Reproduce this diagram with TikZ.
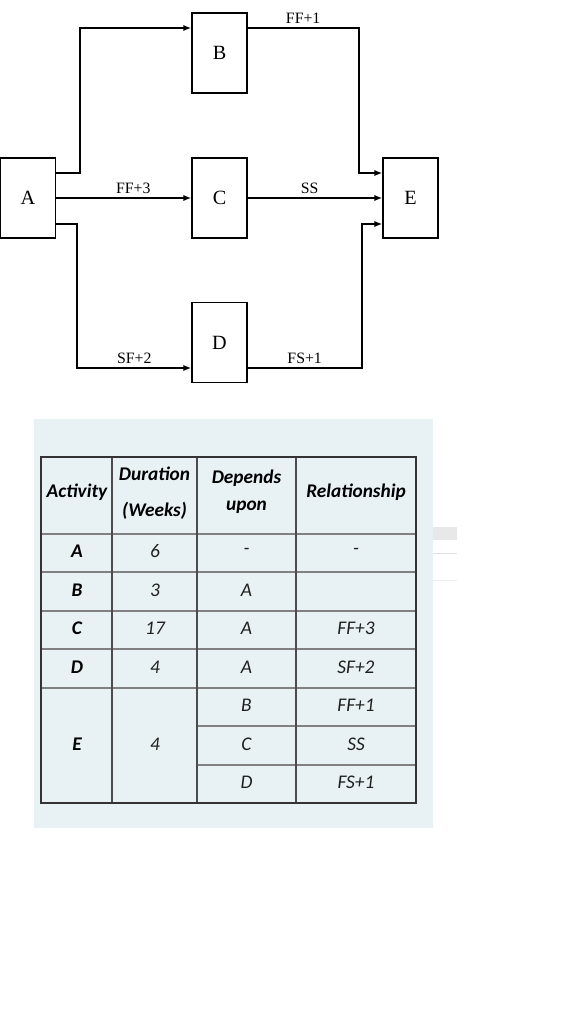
\documentclass[tikz,border=0pt]{standalone}
\usepackage{fontspec}
\setmainfont{Liberation Serif}
\newfontfamily\tabfont{Carlito}
\usetikzlibrary{arrows.meta}
\definecolor{panel}{RGB}{232,242,244}

\begin{document}
\begin{tikzpicture}[x=0.02cm,y=-0.02cm]
                    \tikzstyle{activity}=[rectangle,draw=black,line width=0.8pt,minimum width=1.1cm,minimum height=1.6cm,inner sep=0pt,font=\fontsize{11.5}{13}\selectfont]
                    \tikzstyle{link}=[-{Latex[length=4.5pt,width=3.6pt]},line width=1.3pt]
                    \tikzstyle{lag}=[font=\fontsize{9}{10}\selectfont,inner sep=2pt]
                    \tikzstyle{head}=[font=\tabfont\fontsize{11}{13}\selectfont\bfseries\itshape]
                    \tikzstyle{cell}=[font=\tabfont\fontsize{11}{13}\selectfont\itshape,text=black!88]
                    \useasboundingbox (0,0) rectangle (586,1024);

                    % network
                    \node (a) at (28,198) [activity] {A};
                    \node (b) at (219.5,53) [activity] {B};
                    \node (c) at (219.5,198) [activity] {C};
                    \node (d) at (219.5,342.5) [activity] {D};
                    \node (e) at (410.5,198) [activity] {E};

                    \draw [link] ([yshift=0.5cm]a.east) -- ++(24,0) |- ([yshift=0.5cm]b.west);
                    \draw [link] (a) -- node[lag,above,pos=0.57] {FF+3} (c);
                    \draw [link] ([yshift=-0.52cm]a.east) -- ++(21,0) |- node[lag,above,pos=0.75] {SF+2} ([yshift=-0.51cm]d.west);

                    \draw [link] ([yshift=0.5cm]b.east) -- node[lag,above] {FF+1} ++(111,0) |- ([yshift=0.5cm]e.west);
                    \draw [link] (c) -- node[lag,above,pos=0.46] {SS} (e);
                    \draw [link] ([yshift=-0.51cm]d.east) -- node[lag,above] {FS+1} ++(114,0) |- ([yshift=-0.52cm]e.west);

                    % table
                    \fill [panel] (34,419) rectangle (433,828);
                    \fill [gray!18] (433,527) rectangle (457,540);
                    \draw [gray!25,line width=0.4pt] (433,553) -- (457,553);
                    \draw [gray!15,line width=0.4pt] (433,580) -- (457,580);

                    \draw [gray,line width=0.8pt] (41,534) -- (416,534);
                    \draw [gray,line width=0.8pt] (41,572) -- (416,572);
                    \draw [gray,line width=0.8pt] (41,611) -- (416,611);
                    \draw [gray,line width=0.8pt] (41,649) -- (416,649);
                    \draw [gray,line width=0.8pt] (41,688) -- (416,688);
                    \draw [gray,line width=0.8pt] (197,726) -- (416,726);
                    \draw [gray,line width=0.8pt] (197,765) -- (416,765);
                    \draw [black!70,line width=0.7pt] (112,457) -- (112,803);
                    \draw [black!70,line width=0.7pt] (197,457) -- (197,803);
                    \draw [black!70,line width=0.7pt] (296,457) -- (296,803);
                    \draw [black!80,line width=1pt] (41,457) rectangle (416,803);

                    \node (h1) at (77,492) [head] {Activity};
                    \node (h2a) at (154.5,474) [head] {Duration};
                    \node (h2b) at (154.5,511) [head] {(Weeks)};
                    \node (h3a) at (246.5,478) [head] {Depends};
                    \node (h3b) at (246.5,507) [head] {upon};
                    \node (h4) at (356,492) [head] {Relationship};

                    \node (ra) at (77,551) [head] {A};
                    \node (rb) at (77,590) [head] {B};
                    \node (rc) at (77,628) [head] {C};
                    \node (rd) at (77,667) [head] {D};
                    \node (re) at (77,744) [head] {E};

                    \node (da) at (155,551) [cell] {6};
                    \node (db) at (155,590) [cell] {3};
                    \node (dc) at (155,628) [cell] {17};
                    \node (dd) at (155,667) [cell] {4};
                    \node (de) at (155,744) [cell] {4};

                    \node (pa) at (246.5,551) [cell] {-};
                    \node (pb) at (246.5,590) [cell] {A};
                    \node (pc) at (246.5,628) [cell] {A};
                    \node (pd) at (246.5,667) [cell] {A};
                    \node (pe1) at (246.5,705) [cell] {B};
                    \node (pe2) at (246.5,744) [cell] {C};
                    \node (pe3) at (246.5,782) [cell] {D};

                    \node (la) at (356,551) [cell] {-};
                    \node (lc) at (356,628) [cell] {FF+3};
                    \node (ld) at (356,667) [cell] {SF+2};
                    \node (le1) at (356,705) [cell] {FF+1};
                    \node (le2) at (356,744) [cell] {SS};
                    \node (le3) at (356,782) [cell] {FS+1};
                \end{tikzpicture}
\end{document}
